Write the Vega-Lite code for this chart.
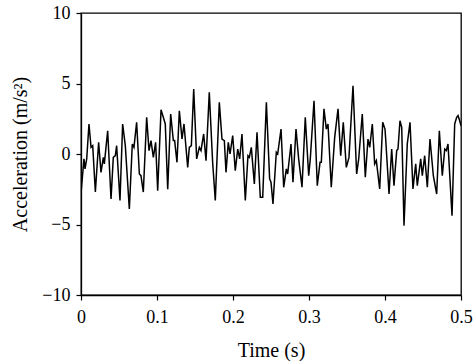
{
  "$schema": "https://vega.github.io/schema/vega-lite/v6.json",
  "width": 380,
  "height": 282,
  "autosize": "none",
  "padding": {"left": 81, "top": 13, "right": 13, "bottom": 66},
  "config": {
    "view": {"stroke": "black", "strokeWidth": 1.3},
    "font": "Liberation Serif",
    "axis": {"grid": false, "domainColor": "black", "tickColor": "black", "labelColor": "black", "titleColor": "black", "labelFont": "Liberation Serif", "titleFont": "Liberation Serif", "titleFontWeight": "normal", "labelFontSize": 18, "titleFontSize": 20, "tickSize": 5, "domainWidth": 1.3, "tickWidth": 1.2}
  },
  "data": {"values": [
    {"t": 0, "a": -2.8}, {"t": 0.0039, "a": -0.35}, {"t": 0.0053, "a": -1.06}, {"t": 0.0075, "a": -0.35},
    {"t": 0.0105, "a": 2.13}, {"t": 0.0132, "a": 0.47}, {"t": 0.0154, "a": 0.59}, {"t": 0.0189, "a": -2.7},
    {"t": 0.0232, "a": 0.83}, {"t": 0.0263, "a": -1.3}, {"t": 0.0294, "a": -0.24}, {"t": 0.0307, "a": -0.7},
    {"t": 0.0351, "a": 1.65}, {"t": 0.0395, "a": -3.19}, {"t": 0.0425, "a": -0.24}, {"t": 0.0452, "a": -0.12},
    {"t": 0.0469, "a": 0.59}, {"t": 0.0513, "a": -3.3}, {"t": 0.0548, "a": 2.13}, {"t": 0.0583, "a": 0.59},
    {"t": 0.0636, "a": -3.9}, {"t": 0.0675, "a": 0.71}, {"t": 0.0697, "a": 0.47}, {"t": 0.0732, "a": 2.25},
    {"t": 0.0768, "a": -1.42}, {"t": 0.0789, "a": -1.54}, {"t": 0.082, "a": -2.7}, {"t": 0.0864, "a": 2.6},
    {"t": 0.0895, "a": 0.24}, {"t": 0.0921, "a": 0.95}, {"t": 0.0952, "a": -0.24}, {"t": 0.0982, "a": 0.83},
    {"t": 0.1009, "a": -2.6}, {"t": 0.1053, "a": 3.14}, {"t": 0.1083, "a": 2.6}, {"t": 0.1109, "a": 2.13},
    {"t": 0.1141, "a": -2.5}, {"t": 0.118, "a": 2.84}, {"t": 0.1215, "a": 0.95}, {"t": 0.1232, "a": 0.95},
    {"t": 0.1263, "a": -0.59}, {"t": 0.1294, "a": 3.07}, {"t": 0.1329, "a": 1.06}, {"t": 0.1355, "a": 2.13},
    {"t": 0.1404, "a": -0.95}, {"t": 0.1425, "a": 0.47}, {"t": 0.1452, "a": 0.59}, {"t": 0.1483, "a": 4.6},
    {"t": 0.1522, "a": -0.35}, {"t": 0.1557, "a": 0.47}, {"t": 0.1579, "a": 0.24}, {"t": 0.1614, "a": 1.42},
    {"t": 0.1645, "a": -0.47}, {"t": 0.1688, "a": 4.37}, {"t": 0.1732, "a": -0.59}, {"t": 0.1767, "a": -3.3},
    {"t": 0.182, "a": 3.66}, {"t": 0.1855, "a": 1.06}, {"t": 0.1886, "a": 0.95}, {"t": 0.1908, "a": -1.3},
    {"t": 0.1938, "a": 0.83}, {"t": 0.1961, "a": 0}, {"t": 0.1996, "a": 1.3}, {"t": 0.203, "a": -1.18},
    {"t": 0.2062, "a": 0.35}, {"t": 0.2088, "a": -0.35}, {"t": 0.2118, "a": 1.42}, {"t": 0.2162, "a": -3.3},
    {"t": 0.2197, "a": -0.12}, {"t": 0.2215, "a": -0.24}, {"t": 0.2241, "a": 0.47}, {"t": 0.2281, "a": -2.13},
    {"t": 0.2316, "a": 1.54}, {"t": 0.2359, "a": -3.07}, {"t": 0.2391, "a": -3.07}, {"t": 0.2439, "a": 3.66},
    {"t": 0.2482, "a": -1.77}, {"t": 0.25, "a": -2.0}, {"t": 0.2526, "a": -3.55}, {"t": 0.257, "a": 0.12},
    {"t": 0.2588, "a": 0}, {"t": 0.2632, "a": 1.77}, {"t": 0.2667, "a": -2.36}, {"t": 0.2702, "a": -1.06},
    {"t": 0.2719, "a": -1.42}, {"t": 0.2763, "a": 0.71}, {"t": 0.2789, "a": -2.0}, {"t": 0.2829, "a": 1.77},
    {"t": 0.2864, "a": -0.35}, {"t": 0.2908, "a": -2.36}, {"t": 0.2951, "a": 2.6}, {"t": 0.2996, "a": -1.54},
    {"t": 0.3017, "a": -0.35}, {"t": 0.3066, "a": 3.78}, {"t": 0.3109, "a": -2.25}, {"t": 0.3145, "a": -0.59},
    {"t": 0.3162, "a": -0.59}, {"t": 0.3197, "a": 3.2}, {"t": 0.3228, "a": 1.77}, {"t": 0.325, "a": 2.13},
    {"t": 0.3293, "a": -2.36}, {"t": 0.3338, "a": 1.18}, {"t": 0.3382, "a": 3.2}, {"t": 0.3417, "a": -0.12},
    {"t": 0.3451, "a": 2.25}, {"t": 0.3491, "a": -0.95}, {"t": 0.3526, "a": -0.24}, {"t": 0.3579, "a": 4.84},
    {"t": 0.3627, "a": -1.42}, {"t": 0.3654, "a": -0.35}, {"t": 0.3701, "a": 2.84}, {"t": 0.3741, "a": -1.65},
    {"t": 0.3776, "a": 1.06}, {"t": 0.3799, "a": 0.47}, {"t": 0.3833, "a": 2.13}, {"t": 0.3864, "a": -0.7},
    {"t": 0.3886, "a": -0.47}, {"t": 0.393, "a": -2.48}, {"t": 0.397, "a": 2.25}, {"t": 0.4, "a": 1.77},
    {"t": 0.4009, "a": 1.06}, {"t": 0.4053, "a": -2.84}, {"t": 0.4088, "a": 0.35}, {"t": 0.4118, "a": -2.25},
    {"t": 0.4154, "a": 0.24}, {"t": 0.4171, "a": 0.35}, {"t": 0.4197, "a": 2.36}, {"t": 0.422, "a": 1.89},
    {"t": 0.425, "a": -5.08}, {"t": 0.4293, "a": 0.71}, {"t": 0.4329, "a": 2.25}, {"t": 0.4368, "a": -2.48},
    {"t": 0.4404, "a": -0.7}, {"t": 0.4425, "a": -2.25}, {"t": 0.447, "a": -0.35}, {"t": 0.4491, "a": -1.54},
    {"t": 0.4522, "a": -0.12}, {"t": 0.4557, "a": -2.36}, {"t": 0.4592, "a": 1.06}, {"t": 0.4636, "a": -1.54},
    {"t": 0.468, "a": -2.84}, {"t": 0.4715, "a": 1.65}, {"t": 0.4754, "a": -1.54}, {"t": 0.4786, "a": 0.35},
    {"t": 0.4807, "a": 0.24}, {"t": 0.4829, "a": 0.71}, {"t": 0.4882, "a": -4.37}, {"t": 0.4917, "a": 2.13},
    {"t": 0.4943, "a": 2.6}, {"t": 0.4961, "a": 2.72}, {"t": 0.4983, "a": 2.36}, {"t": 0.5, "a": 2.0}
  ]},
  "mark": {"type": "line", "color": "black", "strokeWidth": 1.5, "clip": true},
  "encoding": {
    "x": {"field": "t", "type": "quantitative", "title": "Time (s)",
      "scale": {"domain": [0, 0.5], "nice": false, "zero": false},
      "axis": {"values": [0, 0.1, 0.2, 0.3, 0.4, 0.5], "labelExpr": "datum.value == 0 ? '0' : format(datum.value, '.1f')", "labelPadding": 8, "titlePadding": 14, "labelFlush": false}},
    "y": {"field": "a", "type": "quantitative", "title": "Acceleration (m/s²)",
      "scale": {"domain": [-10, 10], "nice": false},
      "axis": {"values": [-10, -5, 0, 5, 10], "format": "d", "labelPadding": 6, "titlePadding": 11, "labelFlush": false}}
  }
}
